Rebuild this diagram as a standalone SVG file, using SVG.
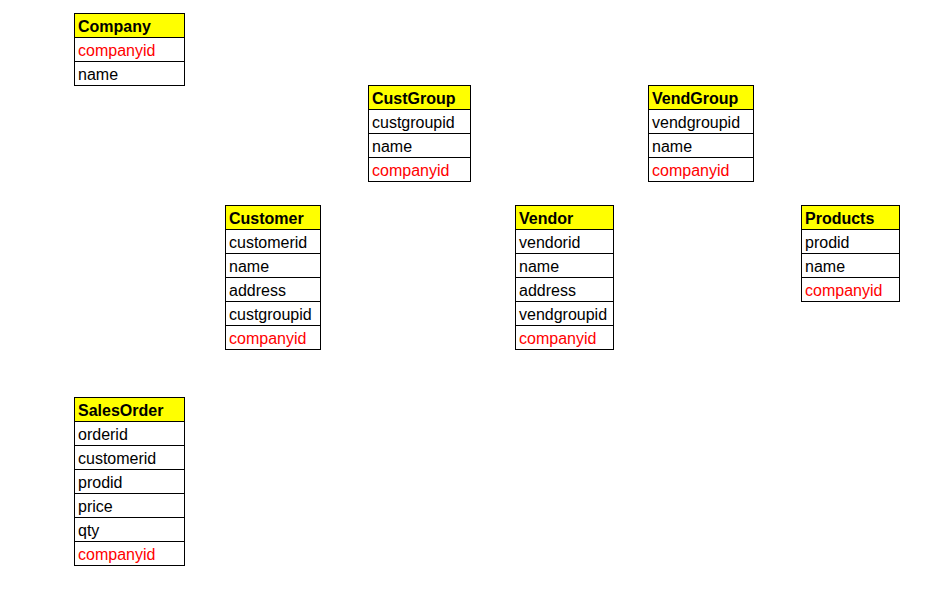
<svg xmlns="http://www.w3.org/2000/svg" width="941" height="593" viewBox="0 0 941 593">
<style>
.bg{fill:#ffffff}
.cell{fill:#ffffff;stroke:#000000;stroke-width:1}
.hdr{fill:#ffff00;stroke:#000000;stroke-width:1}
.t{font-family:"Liberation Sans",Arial,sans-serif;font-size:16px;fill:#000000}
.h{font-family:"Liberation Sans",Arial,sans-serif;font-size:16px;font-weight:bold;fill:#000000}
.k{font-family:"Liberation Sans",Arial,sans-serif;font-size:16px;fill:#ff0000}
</style>
<rect class="bg" x="0" y="0" width="941" height="593"/>
<g id="connectors"></g>

<g id="company">
<rect class="hdr" x="74.5" y="13.5" width="110" height="24"/>
<rect class="cell" x="74.5" y="37.5" width="110" height="24"/>
<rect class="cell" x="74.5" y="61.5" width="110" height="24"/>
<text class="h" x="78" y="31.5">Company</text>
<text class="k" x="78" y="55.5">companyid</text>
<text class="t" x="78" y="79.5">name</text>
</g>

<g id="custgroup">
<rect class="hdr" x="368.5" y="85.5" width="102" height="24"/>
<rect class="cell" x="368.5" y="109.5" width="102" height="24"/>
<rect class="cell" x="368.5" y="133.5" width="102" height="24"/>
<rect class="cell" x="368.5" y="157.5" width="102" height="24"/>
<text class="h" x="372" y="103.5">CustGroup</text>
<text class="t" x="372" y="127.5">custgroupid</text>
<text class="t" x="372" y="151.5">name</text>
<text class="k" x="372" y="175.5">companyid</text>
</g>

<g id="vendgroup">
<rect class="hdr" x="648.5" y="85.5" width="105" height="24"/>
<rect class="cell" x="648.5" y="109.5" width="105" height="24"/>
<rect class="cell" x="648.5" y="133.5" width="105" height="24"/>
<rect class="cell" x="648.5" y="157.5" width="105" height="24"/>
<text class="h" x="652" y="103.5">VendGroup</text>
<text class="t" x="652" y="127.5">vendgroupid</text>
<text class="t" x="652" y="151.5">name</text>
<text class="k" x="652" y="175.5">companyid</text>
</g>

<g id="customer">
<rect class="hdr" x="225.5" y="205.5" width="95" height="24"/>
<rect class="cell" x="225.5" y="229.5" width="95" height="24"/>
<rect class="cell" x="225.5" y="253.5" width="95" height="24"/>
<rect class="cell" x="225.5" y="277.5" width="95" height="24"/>
<rect class="cell" x="225.5" y="301.5" width="95" height="24"/>
<rect class="cell" x="225.5" y="325.5" width="95" height="24"/>
<text class="h" x="229" y="223.5">Customer</text>
<text class="t" x="229" y="247.5">customerid</text>
<text class="t" x="229" y="271.5">name</text>
<text class="t" x="229" y="295.5">address</text>
<text class="t" x="229" y="319.5">custgroupid</text>
<text class="k" x="229" y="343.5">companyid</text>
</g>

<g id="vendor">
<rect class="hdr" x="515.5" y="205.5" width="98" height="24"/>
<rect class="cell" x="515.5" y="229.5" width="98" height="24"/>
<rect class="cell" x="515.5" y="253.5" width="98" height="24"/>
<rect class="cell" x="515.5" y="277.5" width="98" height="24"/>
<rect class="cell" x="515.5" y="301.5" width="98" height="24"/>
<rect class="cell" x="515.5" y="325.5" width="98" height="24"/>
<text class="h" x="519" y="223.5">Vendor</text>
<text class="t" x="519" y="247.5">vendorid</text>
<text class="t" x="519" y="271.5">name</text>
<text class="t" x="519" y="295.5">address</text>
<text class="t" x="519" y="319.5">vendgroupid</text>
<text class="k" x="519" y="343.5">companyid</text>
</g>

<g id="products">
<rect class="hdr" x="801.5" y="205.5" width="98" height="24"/>
<rect class="cell" x="801.5" y="229.5" width="98" height="24"/>
<rect class="cell" x="801.5" y="253.5" width="98" height="24"/>
<rect class="cell" x="801.5" y="277.5" width="98" height="24"/>
<text class="h" x="805" y="223.5">Products</text>
<text class="t" x="805" y="247.5">prodid</text>
<text class="t" x="805" y="271.5">name</text>
<text class="k" x="805" y="295.5">companyid</text>
</g>

<g id="salesorder">
<rect class="hdr" x="74.5" y="397.5" width="110" height="24"/>
<rect class="cell" x="74.5" y="421.5" width="110" height="24"/>
<rect class="cell" x="74.5" y="445.5" width="110" height="24"/>
<rect class="cell" x="74.5" y="469.5" width="110" height="24"/>
<rect class="cell" x="74.5" y="493.5" width="110" height="24"/>
<rect class="cell" x="74.5" y="517.5" width="110" height="24"/>
<rect class="cell" x="74.5" y="541.5" width="110" height="24"/>
<text class="h" x="78" y="415.5">SalesOrder</text>
<text class="t" x="78" y="439.5">orderid</text>
<text class="t" x="78" y="463.5">customerid</text>
<text class="t" x="78" y="487.5">prodid</text>
<text class="t" x="78" y="511.5">price</text>
<text class="t" x="78" y="535.5">qty</text>
<text class="k" x="78" y="559.5">companyid</text>
</g>
</svg>
